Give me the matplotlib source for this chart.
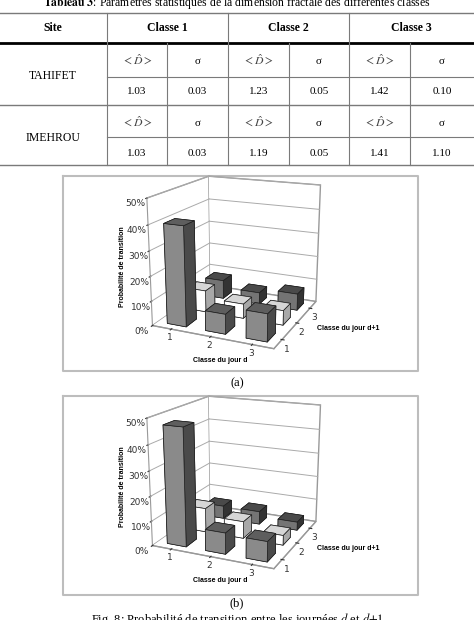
import matplotlib.pyplot as plt
from mpl_toolkits.mplot3d import Axes3D  # noqa: F401

W, H = 474, 620

# --- table data ---
col_groups = ["Classe 1", "Classe 2", "Classe 3"]
sites = ["TAHIFET", "IMEHROU"]
tahifet_mean = [1.03, 1.23, 1.42]
tahifet_sigma = [0.03, 0.05, 0.10]
imehrou_mean = [1.03, 1.19, 1.41]
imehrou_sigma = [0.03, 0.05, 1.10]

# --- chart data (transition probabilities) ---
days = [1, 2, 3]          # classe du jour d
next_days = [1, 2, 3]     # classe du jour d+1
z_ticks = [0.0, 0.1, 0.2, 0.3, 0.4, 0.5]
# (a) one list per class of day d+1, values along class of day d
prob_a_next1 = [0.40, 0.08, 0.11]
prob_a_next2 = [0.09, 0.06, 0.06]
prob_a_next3 = [0.08, 0.05, 0.07]
# (b)
prob_b_next1 = [0.47, 0.085, 0.08]
prob_b_next2 = [0.10, 0.07, 0.04]
prob_b_next3 = [0.055, 0.055, 0.035]

# face colours per row: (front, top, right side)
row_faces = [("#8a8a8a", "#5e5e5e", "#4a4a4a"),
             ("#ffffff", "#d6d6d6", "#a8a8a8"),
             ("#747474", "#4a4a4a", "#333333")]
bar_w = 0.5

plt.rcParams["mathtext.fontset"] = "stix"

fig = plt.figure(figsize=(W / 100, H / 100), dpi=100)

# overlay in pixel coordinates for table, frames and captions
ov = fig.add_axes([0, 0, 1, 1])
ov.set_xlim(0, W)
ov.set_ylim(H, 0)
ov.axis("off")
ov.patch.set_alpha(0)

serif = "Liberation Serif"
sans = "Liberation Sans"

ov.text(237, 6, r"$\mathbf{Tableau\ 3}$" + ": Paramètres statistiques de la dimension fractale des différentes classes",
        ha="center", va="baseline", fontsize=8.5, family=serif)

# table grid
grid_c = "#7a7a7a"
col_x = [0, 107, 167, 228, 289, 349, 410, 474]
ov.plot([0, W], [13, 13], color=grid_c, lw=1)
ov.plot([0, W], [43, 43], color="black", lw=2)
ov.plot([0, W], [105, 105], color=grid_c, lw=1)
ov.plot([0, W], [165, 165], color=grid_c, lw=1)
for yy in (77, 137):
    ov.plot([107, W], [yy, yy], color=grid_c, lw=0.8)
for xx in (107, 228, 349):
    ov.plot([xx, xx], [13, 165], color=grid_c, lw=0.8)
for xx in (167, 289, 410):
    ov.plot([xx, xx], [43, 165], color=grid_c, lw=0.8)

ov.text(53, 28, "Site", ha="center", va="center", fontsize=8.5, family=serif, weight="bold")
for k, name in enumerate(col_groups):
    xc = (col_x[1 + 2 * k] + col_x[3 + 2 * k]) / 2
    ov.text(xc, 28, name, ha="center", va="center", fontsize=8.5, family=serif, weight="bold")

for s, (site, means, sigmas) in enumerate(zip(sites, [tahifet_mean, imehrou_mean],
                                             [tahifet_sigma, imehrou_sigma])):
    y_sym = 61 + s * 62
    y_val = 91 + s * 62
    ov.text(53, (y_sym + y_val) / 2, site, ha="center", va="center", fontsize=8.5, family=serif)
    for k in range(3):
        xm = (col_x[1 + 2 * k] + col_x[2 + 2 * k]) / 2
        xs_ = (col_x[2 + 2 * k] + col_x[3 + 2 * k]) / 2
        ov.text(xm, y_sym, r"$<\hat{D}>$", ha="center", va="center", fontsize=8.5, color="#444444")
        ov.text(xs_, y_sym, "σ", ha="center", va="center", fontsize=8, family=serif)
        ov.text(xm, y_val, f"{means[k]:.2f}", ha="center", va="center", fontsize=8, family=serif)
        ov.text(xs_, y_val, f"{sigmas[k]:.2f}", ha="center", va="center", fontsize=8, family=serif)

# chart frames
frame_c = "#bdbdbd"
for top, bot in ((176, 371), (396, 595)):
    ov.plot([63, 418, 418, 63, 63], [top, top, bot, bot, top], color=frame_c, lw=1.5)

ov.text(237, 383, "(a)", ha="center", va="center", fontsize=9, family=serif)
ov.text(237, 603, "(b)", ha="center", va="center", fontsize=9, family=serif)
ov.text(237, 611, r"Fig. 8: Probabilité de transition entre les journées $d$ et $d{+}1$",
        ha="center", va="top", fontsize=9, family=serif)


def draw_chart(top_px, rows):
    # 3D axes centred on the chart box
    cx, cy, size = 235, top_px + 81, 230
    rect = [(cx - size / 2) / W, 1 - (cy + size / 2) / H, size / W, size / H]
    ax = fig.add_axes(rect, projection="3d", proj_type="persp", focal_length=0.5)
    ax.view_init(elev=17, azim=-66)
    ax.patch.set_alpha(0)
    ax.set_box_aspect((1, 1, 1), zoom=0.93)

    xs, ys, dz, cols = [], [], [], []
    for j, (row, faces) in enumerate(zip(rows, row_faces)):
        front, top, side = faces
        for i, v in enumerate(row):
            xs.append(days[i] - bar_w / 2)
            ys.append(next_days[j] - bar_w / 2)
            dz.append(v)
            # bar3d face order: -z, +z, -y, +y, -x, +x
            cols += [top, top, front, front, side, side]
    ax.bar3d(xs, ys, [0] * len(xs), bar_w, bar_w, dz, color=cols,
             edgecolor="#1e1e1e", linewidth=0.5, shade=False)

    ax.set_xlim(0.5, 3.5)
    ax.set_ylim(0.5, 3.5)
    ax.set_zlim(0, 0.5)
    ax.grid(False)
    for axis in (ax.xaxis, ax.yaxis, ax.zaxis):
        axis.set_pane_color((1, 1, 1, 1))
        axis.pane.set_edgecolor("#999999")
        axis.line.set_color("#999999")
    ax.zaxis.set_ticks_position("lower")
    # wall gridlines
    for z in z_ticks[1:]:
        ax.plot([0.5, 3.5], [3.5, 3.5], [z, z], color="#aaaaaa", lw=0.7)
        ax.plot([0.5, 0.5], [0.5, 3.5], [z, z], color="#aaaaaa", lw=0.7)

    ax.set_xticks(days)
    ax.set_yticks(next_days)
    ax.set_zticks(z_ticks)
    ax.set_zticklabels([f"{int(round(t * 100))}%" for t in z_ticks])
    ax.tick_params(labelsize=6.5, colors="#333333")
    ax.tick_params(axis="x", pad=-6)
    ax.tick_params(axis="y", pad=-5)
    ax.tick_params(axis="z", pad=-3)

    fig.text(123 / W, 1 - (top_px + 91) / H, "Probabilité de transition", rotation=90,
             ha="center", va="center", fontsize=5, weight="bold", family=sans)
    fig.text(220 / W, 1 - (top_px + 184) / H, "Classe du jour d", ha="center", va="center",
             fontsize=5, weight="bold", family=sans)
    fig.text(317 / W, 1 - (top_px + 153) / H, "Classe du jour d+1", ha="left", va="center",
             fontsize=5, weight="bold", family=sans)
    return ax


draw_chart(176, [prob_a_next1, prob_a_next2, prob_a_next3])
draw_chart(396, [prob_b_next1, prob_b_next2, prob_b_next3])

fig.savefig("out.png", dpi=100)
